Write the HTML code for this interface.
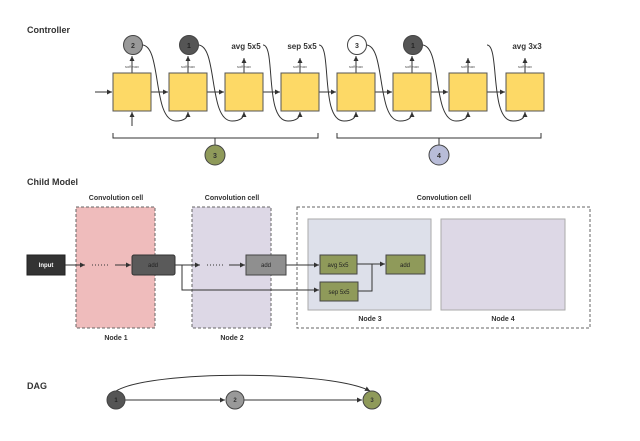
<!DOCTYPE html>
<html><head><meta charset="utf-8"><style>
html,body{margin:0;padding:0;background:#fff;}
svg{display:block;font-family:"Liberation Sans",sans-serif;}
</style></head><body>
<svg width="640" height="441" viewBox="0 0 640 441" xmlns="http://www.w3.org/2000/svg">
<defs>
<marker id="a" markerWidth="6" markerHeight="6" refX="5" refY="3" orient="auto" markerUnits="userSpaceOnUse"><path d="M0,0.5 L5,3 L0,5.5z" fill="#333"/></marker>
</defs>
<text x="27" y="33" font-size="9" font-weight="bold" fill="#333">Controller</text>
<g stroke="#333" stroke-width="1" fill="none">
<line x1="95" y1="92" x2="112" y2="92" marker-end="url(#a)"/>
<line x1="151" y1="92" x2="168" y2="92" marker-end="url(#a)"/>
<line x1="207" y1="92" x2="224" y2="92" marker-end="url(#a)"/>
<line x1="263" y1="92" x2="280" y2="92" marker-end="url(#a)"/>
<line x1="319" y1="92" x2="336" y2="92" marker-end="url(#a)"/>
<line x1="375" y1="92" x2="392" y2="92" marker-end="url(#a)"/>
<line x1="431" y1="92" x2="448" y2="92" marker-end="url(#a)"/>
<line x1="487" y1="92" x2="505" y2="92" marker-end="url(#a)"/>
<line x1="132" y1="126" x2="132" y2="112" marker-end="url(#a)"/>
<line x1="132" y1="73" x2="132" y2="56" marker-end="url(#a)"/>
<line x1="188" y1="73" x2="188" y2="56" marker-end="url(#a)"/>
<line x1="244" y1="73" x2="244" y2="58" marker-end="url(#a)"/>
<line x1="300" y1="73" x2="300" y2="58" marker-end="url(#a)"/>
<line x1="356" y1="73" x2="356" y2="56" marker-end="url(#a)"/>
<line x1="412" y1="73" x2="412" y2="56" marker-end="url(#a)"/>
<line x1="468" y1="73" x2="468" y2="58" marker-end="url(#a)"/>
<line x1="525" y1="73" x2="525" y2="58" marker-end="url(#a)"/>
<path d="M142,45 C162,45 152,121 176,121 Q188,121 188,112" marker-end="url(#a)"/>
<path d="M198,45 C218,45 208,121 232,121 Q244,121 244,112" marker-end="url(#a)"/>
<path d="M263,45 C276,45 264,121 288,121 Q300,121 300,112" marker-end="url(#a)"/>
<path d="M319,45 C332,45 320,121 344,121 Q356,121 356,112" marker-end="url(#a)"/>
<path d="M366,45 C386,45 376,121 400,121 Q412,121 412,112" marker-end="url(#a)"/>
<path d="M422,45 C442,45 432,121 456,121 Q468,121 468,112" marker-end="url(#a)"/>
<path d="M487,45 C500,45 489,121 513,121 Q525,121 525,112" marker-end="url(#a)"/>
<path d="M113,133 L113,138 L318,138 L318,133 M215,138 L215,145"/>
<path d="M337,133 L337,138 L541,138 L541,133 M439,138 L439,145"/>
</g>
<g fill="#fdd966" stroke="#555" stroke-width="1">
<rect x="113" y="73" width="38" height="38"/><rect x="169" y="73" width="38" height="38"/>
<rect x="225" y="73" width="38" height="38"/><rect x="281" y="73" width="38" height="38"/>
<rect x="337" y="73" width="38" height="38"/><rect x="393" y="73" width="38" height="38"/>
<rect x="449" y="73" width="38" height="38"/><rect x="506" y="73" width="38" height="38"/>
</g>
<g font-size="4" fill="#555" text-anchor="middle">
<text x="132" y="68">softmax</text><text x="188" y="68">softmax</text><text x="244" y="68">softmax</text><text x="300" y="68">softmax</text>
<text x="356" y="68">softmax</text><text x="412" y="68">softmax</text><text x="468" y="68">softmax</text><text x="525" y="68">softmax</text>
</g>
<g stroke="#444" stroke-width="1">
<circle cx="133" cy="45" r="9.5" fill="#999"/>
<circle cx="189" cy="45" r="9.5" fill="#555"/>
<circle cx="357" cy="45" r="9.5" fill="#fff"/>
<circle cx="413" cy="45" r="9.5" fill="#555"/>
<circle cx="215" cy="155" r="10" fill="#8f9a5a"/>
<circle cx="439" cy="155" r="10" fill="#b8bcd8"/>
</g>
<g font-size="7" font-weight="bold" text-anchor="middle">
<text x="133" y="48" fill="#333">2</text><text x="189" y="48" fill="#222">1</text>
<text x="357" y="48" fill="#333">3</text><text x="413" y="48" fill="#222">1</text>
<text x="215" y="158" fill="#333">3</text><text x="439" y="158" fill="#333">4</text>
</g>
<g font-size="8" font-weight="bold" fill="#333" text-anchor="middle">
<text x="246" y="49">avg 5x5</text><text x="302" y="49">sep 5x5</text><text x="527" y="49">avg 3x3</text>
</g>

<text x="27" y="185" font-size="9" font-weight="bold" fill="#333">Child Model</text>
<rect x="76" y="207" width="79" height="121" fill="#efbcbc" stroke="#666" stroke-dasharray="3,2"/>
<rect x="192" y="207" width="79" height="121" fill="#ddd8e6" stroke="#666" stroke-dasharray="3,2"/>
<rect x="297" y="207" width="293" height="121" fill="#fff" stroke="#666" stroke-dasharray="3,2"/>
<rect x="308" y="219" width="123" height="91" fill="#dde0ea" stroke="#aaa"/>
<rect x="441" y="219" width="124" height="91" fill="#ddd8e6" stroke="#aaa"/>
<g font-size="7" font-weight="bold" fill="#333" text-anchor="middle">
<text x="116" y="200">Convolution cell</text><text x="232" y="200">Convolution cell</text><text x="444" y="200">Convolution cell</text>
<text x="116" y="340">Node 1</text><text x="232" y="340">Node 2</text><text x="370" y="321">Node 3</text><text x="503" y="321">Node 4</text>
</g>
<g stroke="#333" fill="none">
<line x1="65" y1="265" x2="85" y2="265" marker-end="url(#a)"/>
<line x1="92" y1="265" x2="108" y2="265" stroke-dasharray="1,2"/>
<line x1="115" y1="265" x2="131" y2="265" marker-end="url(#a)"/>
<line x1="175" y1="265" x2="200" y2="265" marker-end="url(#a)"/>
<line x1="207" y1="265" x2="224" y2="265" stroke-dasharray="1,2"/>
<line x1="229" y1="265" x2="245" y2="265" marker-end="url(#a)"/>
<line x1="286" y1="265" x2="319" y2="265" marker-end="url(#a)"/>
<path d="M182,265 L182,290 L319,290" marker-end="url(#a)"/>
<line x1="357" y1="264" x2="385" y2="264" marker-end="url(#a)"/>
<path d="M358,291 L372,291 L372,264"/>
</g>
<rect x="27" y="255" width="38" height="20" fill="#333" stroke="#222"/>
<rect x="132" y="255" width="43" height="20" rx="2" fill="#5a5a5a" stroke="#333"/>
<rect x="246" y="255" width="40" height="20" fill="#8f8f8f" stroke="#444"/>
<rect x="320" y="255" width="37" height="19" fill="#8f9a5a" stroke="#444"/>
<rect x="320" y="282" width="38" height="19" fill="#8f9a5a" stroke="#444"/>
<rect x="386" y="255" width="39" height="19" fill="#8f9a5a" stroke="#444"/>
<g font-size="6" text-anchor="middle">
<text x="46" y="267" fill="#fff" font-weight="bold">Input</text>
<text x="153" y="267" fill="#222">add</text>
<text x="266" y="267" fill="#222">add</text>
<text x="338" y="267" fill="#222">avg 5x5</text>
<text x="339" y="294" fill="#222">sep 5x5</text>
<text x="405" y="267" fill="#222">add</text>
</g>

<text x="27" y="389" font-size="9" font-weight="bold" fill="#333">DAG</text>
<g stroke="#333" fill="none">
<path d="M116,391 C150,370 330,370 370,391" marker-end="url(#a)"/>
<line x1="125" y1="400" x2="225" y2="400" marker-end="url(#a)"/>
<line x1="244" y1="400" x2="362" y2="400" marker-end="url(#a)"/>
</g>
<g stroke="#444">
<circle cx="116" cy="400" r="9" fill="#555"/>
<circle cx="235" cy="400" r="9" fill="#999"/>
<circle cx="372" cy="400" r="9" fill="#8f9a5a"/>
</g>
<g font-size="6" font-weight="bold" text-anchor="middle">
<text x="116" y="402" fill="#222">1</text><text x="235" y="402" fill="#333">2</text><text x="372" y="402" fill="#333">3</text>
</g>
</svg>
</body></html>
